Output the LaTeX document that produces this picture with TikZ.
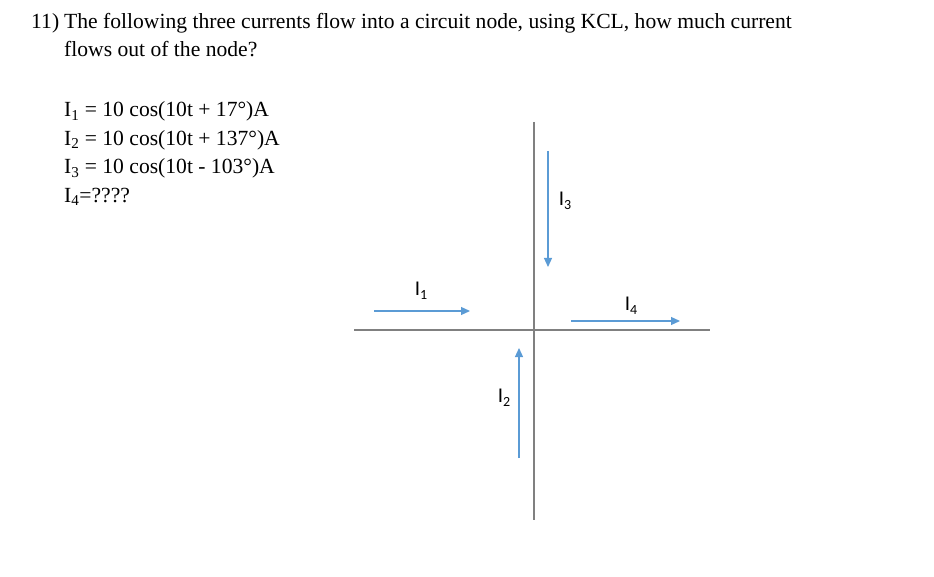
\documentclass[tikz,border=0pt]{standalone}
\usepackage{fontspec}
\setmainfont{Liberation Serif}
\newfontfamily\lblfont{Carlito}
\usetikzlibrary{arrows.meta}

\tikzset{
  qtext/.style={anchor=base west, inner sep=0pt, font=\fontsize{21.6}{25}\selectfont},
  wire/.style={draw=wiregray, line width=1.4pt},
  flow/.style={draw=flowblue, line width=1.2pt, -{Triangle[length=9pt,width=8pt]}},
  cur/.style={inner sep=0pt, font=\lblfont\fontsize{21}{24}\selectfont}
}
\definecolor{wiregray}{RGB}{128,128,128}
\definecolor{flowblue}{RGB}{91,155,213}

\begin{document}
\begin{tikzpicture}[x=1pt,y=-1pt]
  \useasboundingbox (0,0) rectangle (934,577);

	%question
 \node[qtext] (num) at (31,29) {11)};
 \node[qtext] (q1) at (64,29) {The following three currents flow into a circuit node, using KCL, how much current};
 \node[qtext] (q2) at (64,57) {flows out of the node?};

	%given currents
    \foreach \i/\txt/\name in {0/{I\textsubscript{1} = 10 cos(10t + 17°)A}/e1, 1/{I\textsubscript{2} = 10 cos(10t + 137°)A}/e2, 2/{I\textsubscript{3} = 10 cos(10t - 103°)A}/e3, 3/{I\textsubscript{4}=????}/e4}{
           \node[qtext] (\name) at (64, 117 + \i*28.5) {\txt};
    }

	%node wires
 \coordinate (top) at (534,122);
 \coordinate (bot) at (534,520);
 \coordinate (lft) at (354,330);
 \coordinate (rgt) at (710,330);
    \draw[wire] (top) -- (bot);
    \draw[wire] (lft) -- (rgt);

	%currents
    \foreach \name/\sx/\sy/\ex/\ey/\lx/\ly in {1/374/311/470/311/421/291, 2/519/458/519/348/504/398, 3/548/151/548/267/565/201, 4/571/321/680/321/631/306}{
         \coordinate (s\name) at (\sx,\sy);
         \coordinate (t\name) at (\ex,\ey);
         \draw[flow] (s\name) -- (t\name);
         \node[cur] (L\name) at (\lx,\ly) {I\raisebox{-0.4ex}{\fontsize{14}{15}\selectfont\name}};
    }

\end{tikzpicture}
\end{document}
